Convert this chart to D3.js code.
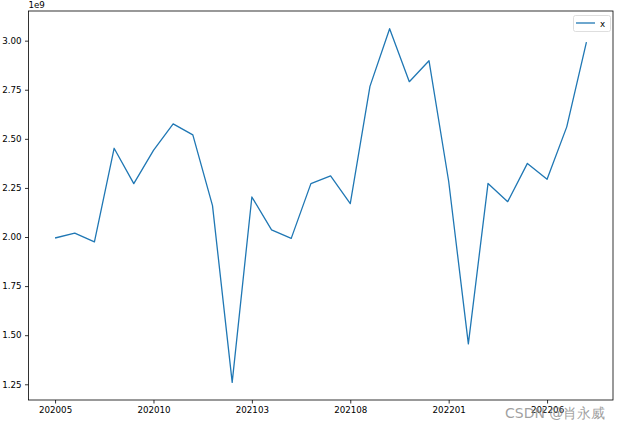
<!DOCTYPE html>
<html><head><meta charset="utf-8">
<script src="https://cdn.jsdelivr.net/npm/d3@7"></script>
<style>body{margin:0;background:#fff}svg{display:block}text{font-family:"DejaVu Sans",sans-serif}</style>
</head><body><svg id="c" width="621" height="428"></svg>
<script>
const months = ["202005","202006","202007","202008","202009","202010","202011","202012",
  "202101","202102","202103","202104","202105","202106","202107","202108","202109","202110",
  "202111","202112","202201","202202","202203","202204","202205","202206","202207","202208"];
const values = [1.995,2.02,1.975,2.452,2.272,2.441,2.576,2.52,2.16,1.26,2.204,2.036,1.993,
  2.272,2.311,2.17,2.767,3.061,2.791,2.898,2.284,1.456,2.273,2.18,2.375,2.294,2.561,2.993].map(v=>v*1e9);
const tickLabels = ["202005","202010","202103","202108","202201","202206"];
const yTicks = [1.25,1.5,1.75,2.0,2.25,2.5,2.75,3.0].map(v=>v*1e9);
const seriesName = "x";

const svg = d3.select("#c");
const L=28.5, R=613, T=11, B=400;
const n = months.length;
const xpad = (n-1)*0.05;
const x = d3.scaleLinear().domain([-xpad, n-1+xpad]).range([L,R]);
const [mn,mx] = d3.extent(values);
const ypad = (mx-mn)*0.05;
const y = d3.scaleLinear().domain([mn-ypad, mx+ypad]).range([B,T]);

const fs = 8.7;
// x axis
const xTickIdx = tickLabels.map(t=>months.indexOf(t));
const xa = svg.append("g").attr("transform",`translate(0,${B})`)
  .call(d3.axisBottom(x).tickValues(xTickIdx).tickFormat(i=>months[i]).tickSize(3.5).tickPadding(3));
xa.select(".domain").remove();
xa.selectAll("line").attr("stroke","#000").attr("stroke-width",0.8);
xa.selectAll("text").attr("font-size",fs).attr("fill","#000").attr("font-family","DejaVu Sans");
// y axis
const ya = svg.append("g").attr("transform",`translate(${L},0)`)
  .call(d3.axisLeft(y).tickValues(yTicks).tickFormat(v=>(v/1e9).toFixed(2)).tickSize(3.5).tickPadding(3.5));
ya.select(".domain").remove();
ya.selectAll("line").attr("stroke","#000").attr("stroke-width",0.8);
ya.selectAll("text").attr("font-size",fs).attr("fill","#000").attr("font-family","DejaVu Sans");

svg.append("text").attr("x",L).attr("y",T-3).attr("font-size",fs).text("1e9");

// line
svg.append("path").datum(values)
  .attr("d", d3.line().x((d,i)=>x(i)).y(d=>y(d)))
  .attr("fill","none").attr("stroke","#1f77b4").attr("stroke-width",1.3).attr("stroke-linejoin","round");

// frame
svg.append("rect").attr("x",L).attr("y",T).attr("width",R-L).attr("height",B-T)
  .attr("fill","none").attr("stroke","#000").attr("stroke-width",0.8);

// legend
const lg = svg.append("g");
lg.append("rect").attr("x",573.5).attr("y",15.5).attr("width",37).attr("height",16).attr("rx",2)
  .attr("fill","#fff").attr("fill-opacity",0.8).attr("stroke","#d6d6d6").attr("stroke-width",0.8);
lg.append("line").attr("x1",576).attr("x2",595).attr("y1",23).attr("y2",23)
  .attr("stroke","#1f77b4").attr("stroke-width",1.3);
lg.append("text").attr("x",600).attr("y",26.5).attr("font-size",fs).text(seriesName);

// watermark
svg.append("text").attr("x",505).attr("y",417.5).attr("font-size",14)
  .attr("font-family","'Noto Sans CJK SC','DejaVu Sans',sans-serif")
  .attr("fill","#8f8f8f").attr("fill-opacity",0.85).text("CSDN @肖永威");
</script></body></html>
